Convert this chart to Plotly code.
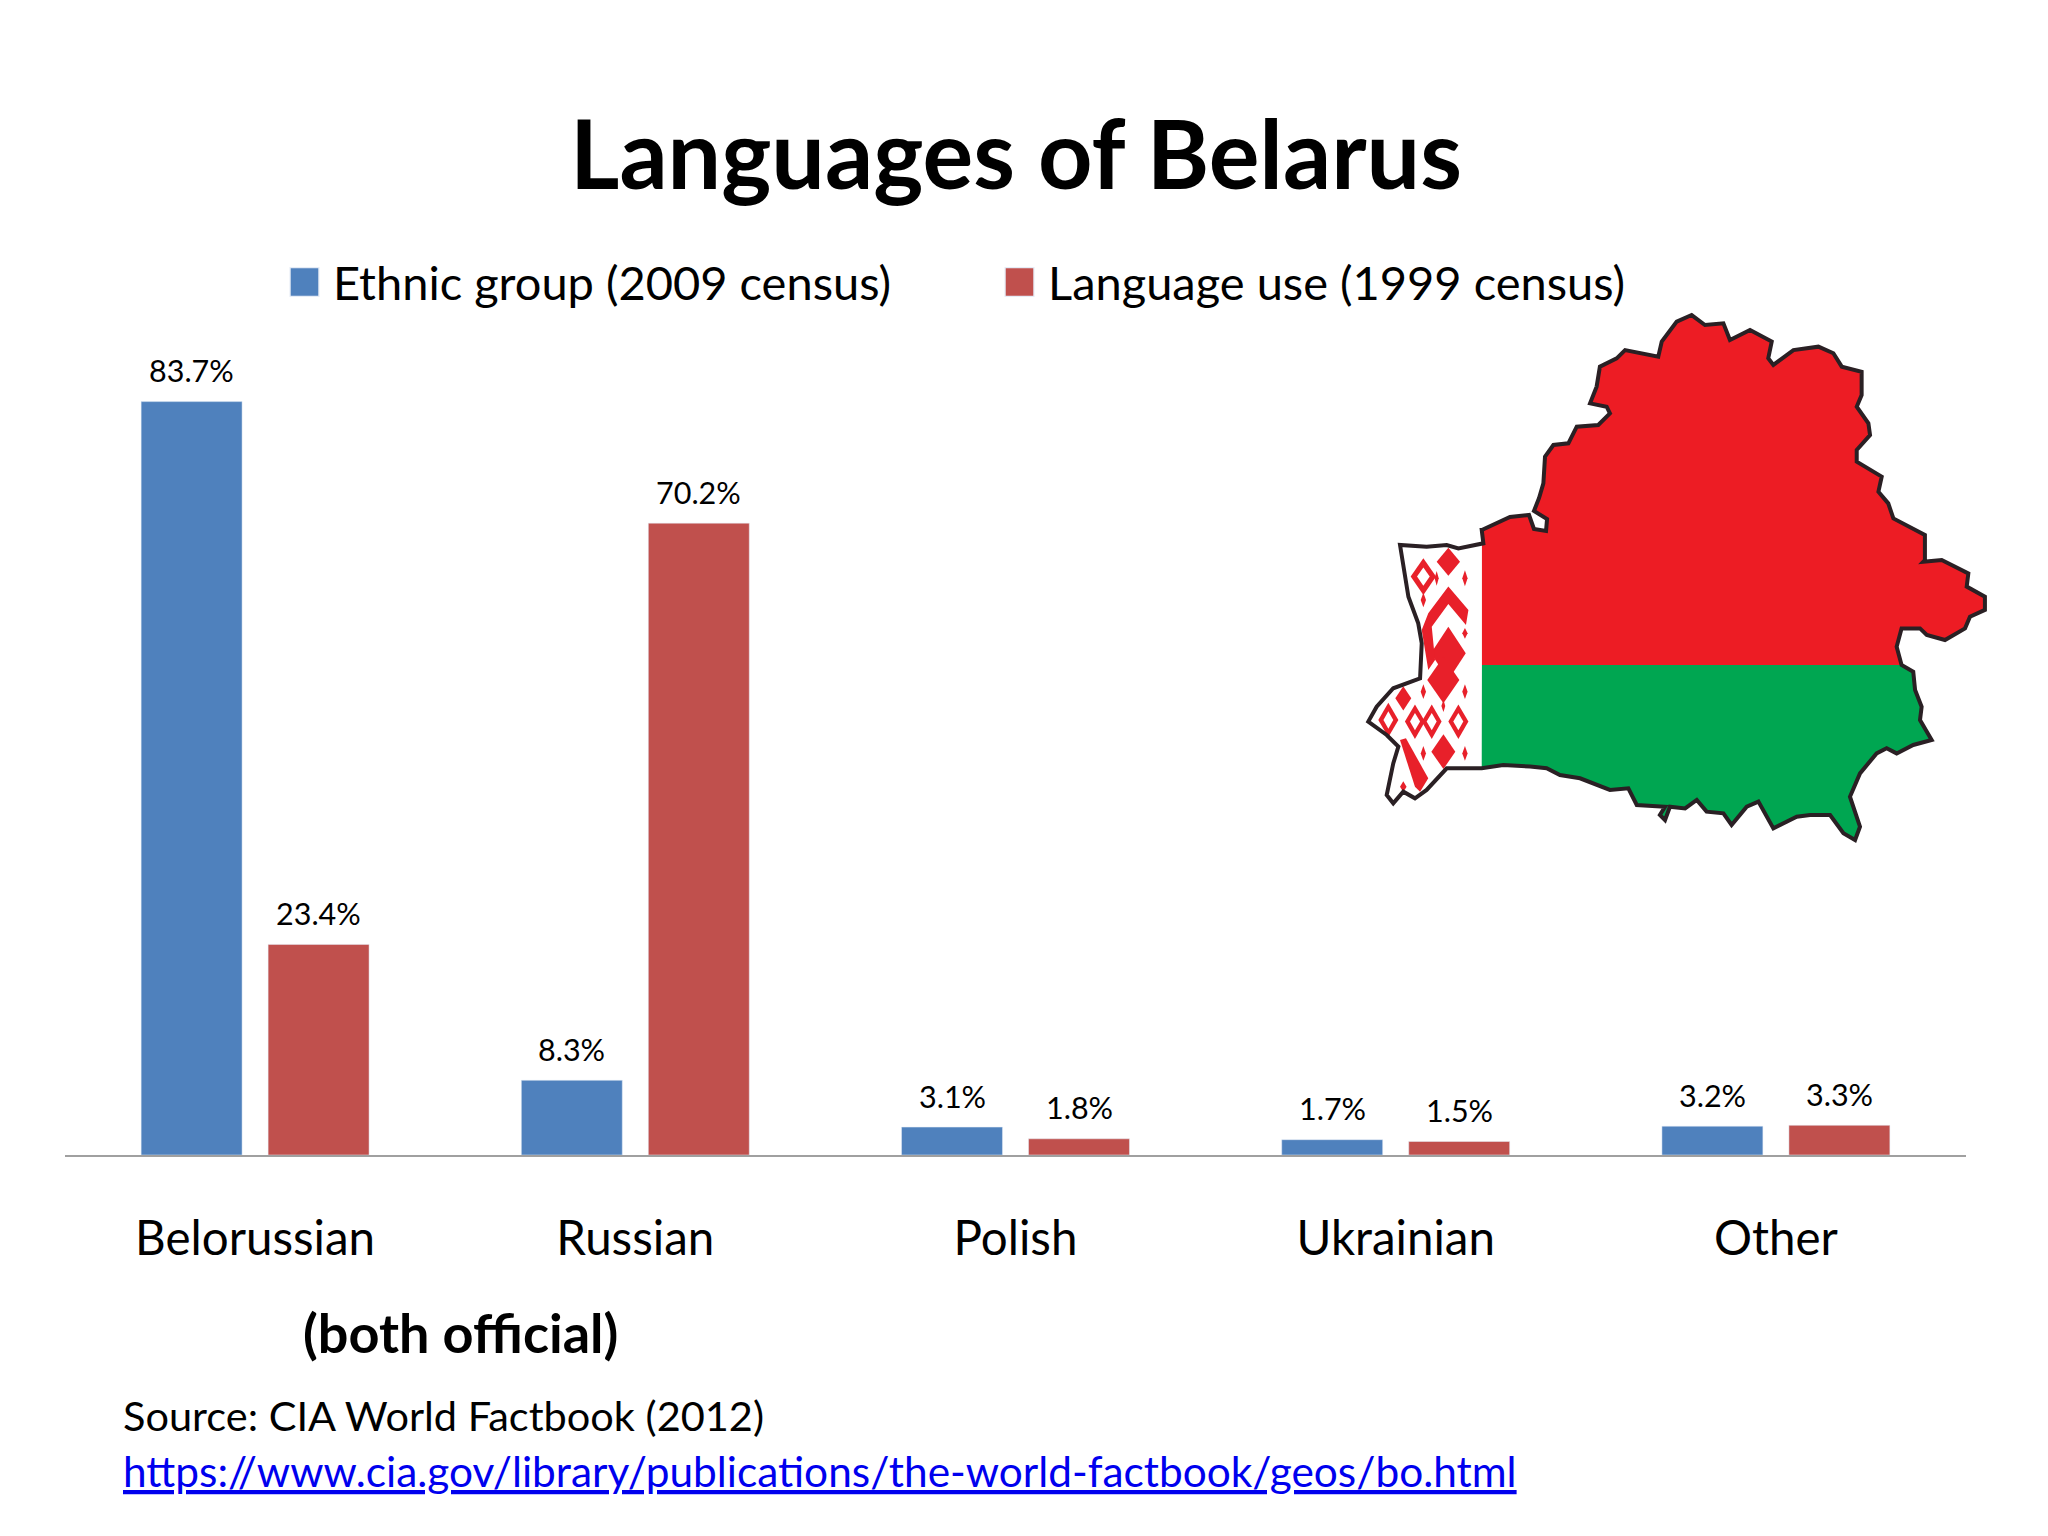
import plotly.graph_objects as go

W, H = 2048, 1536

# data
languages = ['Belorussian', 'Russian', 'Polish', 'Ukrainian', 'Other']
ethnic_group = [83.7, 8.3, 3.1, 1.7, 3.2]
language_use = [23.4, 70.2, 1.8, 1.5, 3.3]

BLUE = '#4F81BD'
RED = '#C0504D'
FONT = 'Lato'
BAND_X = 1482   # white band / flag boundary on the map
BAND_Y = 665    # red / green boundary on the map


def crop(ox, oy, pts):
    return [(ox + x / 3, oy + y / 3) for x, y in pts]


map_red = [(BAND_X, 530), (1484, 529), (1510, 517), (1529, 515), (1534, 529), (1546, 531), (1547, 519), (1534, 511), (1539, 498)]
map_red += crop(1530, 300, [(40, 550), (45, 470), (70, 435), (115, 430), (140, 380), (205, 375), (240, 340), (230, 320),
                            (180, 310), (200, 260), (210, 200), (260, 175), (285, 150), (385, 170), (395, 125),
                            (440, 65), (485, 45), (525, 75), (580, 70), (600, 120), (660, 90)])
map_red += crop(1750, 320, [(65, 65), (55, 115), (70, 135), (130, 90), (205, 80), (250, 100), (275, 140), (335, 155),
                            (335, 225), (320, 260), (355, 310), (360, 345), (320, 390), (320, 425), (395, 470),
                            (385, 515), (415, 550), (430, 595), (525, 645), (525, 720)])
map_red += crop(1700, 540, [(670, 65), (725, 60), (805, 100), (800, 140), (855, 170), (855, 210), (810, 230), (795, 265),
                            (735, 300), (680, 285), (660, 265), (605, 265), (590, 320), (605, 375)])

map_green = crop(1700, 540, [(605, 375), (640, 395), (645, 450), (665, 500), (660, 540), (695, 600), (640, 615), (590, 640),
                             (560, 625), (530, 640), (480, 700), (450, 770), (480, 860), (465, 900), (430, 880),
                             (390, 825), (330, 825), (290, 830), (220, 865), (175, 785), (140, 800), (95, 855)])
map_green += crop(1530, 740, [(580, 220), (530, 215), (500, 180), (465, 205), (420, 200), (405, 240), (390, 225), (405, 200),
                              (320, 195), (295, 145), (240, 150), (150, 115), (90, 105), (50, 85), (0, 80)])
map_green += crop(1360, 530, [(430, 705), (365, 715)])

map_white = crop(1360, 530, [(365, 715), (260, 715), (200, 780), (165, 805), (130, 785), (100, 820), (80, 795), (100, 700),
                             (115, 650), (80, 615), (25, 575), (50, 530), (100, 475), (180, 445), (185, 340), (175, 280),
                             (145, 200), (120, 45), (200, 50), (260, 45), (295, 55), (370, 40), (365, 0)])

# ornament on the white band: crop x, crop y, half width, half height, hollow
ornament = [(265, 370, 52, 80, False), (250, 450, 48, 70, False), (265, 95, 35, 42, False), (190, 140, 38, 55, True),
            (85, 570, 30, 52, True), (165, 575, 30, 52, True), (215, 575, 30, 52, True), (295, 575, 30, 52, True),
            (130, 505, 24, 36, False), (250, 665, 36, 52, False), (230, 145, 6, 22, False), (315, 145, 8, 24, False),
            (190, 210, 8, 22, False), (315, 310, 8, 16, False), (315, 485, 8, 22, False), (190, 485, 8, 22, False),
            (250, 528, 6, 18, False), (190, 670, 8, 22, False), (315, 670, 8, 22, False), (130, 770, 10, 16, False)]
ornament_bands = [[(265, 170), (325, 240), (318, 285), (265, 222), (215, 290), (225, 390), (205, 420), (185, 300), (205, 250)],
                  [(120, 630), (138, 625), (205, 745), (180, 785), (165, 770)]]


def path(pts):
    return 'M' + ' L'.join(f'{x / W:.4f},{1 - y / H:.4f}' for x, y in pts) + ' Z'


def map_shape(pts, fill):
    return dict(type='path', path=path(pts), xref='paper', yref='paper', fillcolor=fill,
                line=dict(width=0), layer='above')


def paper_note(x, y, text, size, color='black', anchor='left'):
    return dict(x=x / W, y=1 - y / H, xref='paper', yref='paper', xanchor=anchor, yanchor='middle', text=text,
                showarrow=False, font=dict(family=FONT, size=size, color=color))


fig = go.Figure()
fig.add_trace(go.Bar(name='Ethnic group (2009 census)', x=languages, y=ethnic_group, marker_color=BLUE))
fig.add_trace(go.Bar(name='Language use (1999 census)', x=languages, y=language_use, marker_color=RED))

# value labels sit well above the bars
notes = []
for vals, shift in [(ethnic_group, -63.5), (language_use, 63.5)]:
    for lang, v in zip(languages, vals):
        notes.append(dict(x=lang, y=v, text=f'{v}%', showarrow=False, xshift=shift, yshift=31.5,
                          font=dict(family=FONT, size=30.5, color='black')))

notes.append(paper_note(460, 1332, '<b>(both official)</b>', 54, anchor='center'))
notes.append(paper_note(121, 1415, 'Source: CIA World Factbook (2012)', 41.5))
notes.append(paper_note(121, 1470, '<u>https://www.cia.gov/library/publications/the-world-factbook/geos/bo.html</u>',
                        42.4, color='#0000EE'))

shapes = [map_shape(map_white + [(BAND_X, 530)], 'white'),
          map_shape(map_red + [(BAND_X, BAND_Y)], '#ED1C24'),
          map_shape(map_green + [(BAND_X, BAND_Y)], '#00A651')]
for cx, cy, rx, ry, hollow in ornament:
    cx, cy, rx, ry = 1360 + cx / 3, 530 + cy / 3, rx / 3, ry / 3
    shapes.append(map_shape([(cx, cy - ry), (cx + rx, cy), (cx, cy + ry), (cx - rx, cy)], '#E8202A'))
    if hollow:
        shapes.append(map_shape([(cx, cy - ry / 2), (cx + rx / 2, cy), (cx, cy + ry / 2), (cx - rx / 2, cy)], 'white'))
for band in ornament_bands:
    shapes.append(map_shape(crop(1360, 530, band), '#E8202A'))
shapes.append(dict(type='path', path=path(map_red + map_green + map_white), xref='paper', yref='paper',
                   line=dict(color='#2A2024', width=4), layer='above'))

fig.update_layout(
    width=W, height=H, margin=dict(l=0, r=0, t=0, b=0), autosize=False,
    paper_bgcolor='white', plot_bgcolor='white',
    barmode='group', bargap=0.332, bargroupgap=0.205,
    title=dict(text='<b>Languages of Belarus</b>', x=1016 / W, xanchor='center', y=1 - 156 / H, yanchor='middle',
               font=dict(family=FONT, size=95, color='black')),
    legend=dict(orientation='h', x=283 / W, xanchor='left', y=1 - 282.5 / H, yanchor='middle', indentation=10,
                font=dict(family=FONT, size=47, color='black'), entrywidth=660, entrywidthmode='pixels',
                traceorder='normal', bgcolor='rgba(0,0,0,0)'),
    annotations=notes, shapes=shapes,
)
fig.update_xaxes(domain=[65 / W, 1966 / W], showline=True, linecolor='#A0A0A0', linewidth=2, showgrid=False,
                 ticks='', ticklabelstandoff=41, tickfont=dict(family=FONT, size=47.5, color='black'))
fig.update_yaxes(domain=[1 - 1155 / H, 1 - 299 / H], range=[0, 95.1], visible=False, showgrid=False)

fig.write_html('out.html', config=dict(displayModeBar=False),
               post_script="document.body.style.margin='0';"
                           "document.querySelectorAll('.legendpoints path').forEach(function(p){"
                           "p.setAttribute('transform','translate(11.5,0) scale(2.4)');});")
